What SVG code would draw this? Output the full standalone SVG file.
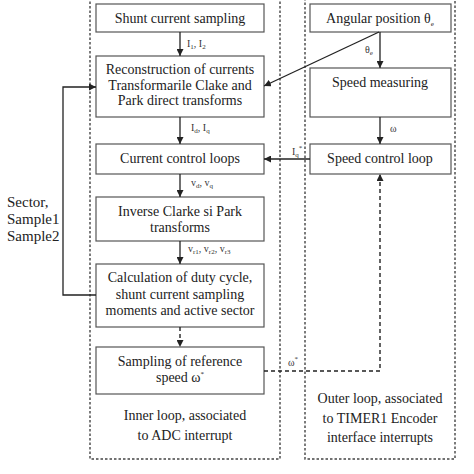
<svg xmlns="http://www.w3.org/2000/svg" width="474" height="474" viewBox="0 0 474 474">
<style>
.box{fill:#fff;stroke:#555;stroke-width:1.2}
.grp{fill:none;stroke:#444;stroke-width:1.4;stroke-dasharray:2.5 2}
.t{font-size:14px;fill:#222;text-anchor:middle}
.s{font-size:10px;fill:#333}
.sub{font-size:7px}
.side{font-size:15px;fill:#222}
.c{fill:none;stroke:#222;stroke-width:1.3}
.d{fill:none;stroke:#222;stroke-width:1.4;stroke-dasharray:4 3}
</style>
<defs>
<marker id="ah" viewBox="0 0 10 10" refX="10" refY="5" markerWidth="7" markerHeight="7" orient="auto" markerUnits="userSpaceOnUse">
<path d="M0,0 L10,5 L0,10 z" fill="#222"/>
</marker>
</defs>
<rect width="474" height="474" fill="#fff"/>
<g font-family="Liberation Serif, DejaVu Serif, serif">
<g id="inner-loop">
<rect class="grp" x="90" y="-2" width="190" height="461"/>
<text class="t" x="185" y="420">Inner loop, associated</text>
<text class="t" x="185" y="440">to ADC interrupt</text>
</g>
<g id="outer-loop">
<rect class="grp" x="305" y="-2" width="150" height="461"/>
<text class="t" x="380" y="403">Outer loop,  associated</text>
<text class="t" x="380" y="423">to TIMER1 Encoder</text>
<text class="t" x="380" y="442">interface interrupts</text>
</g>
<g id="shunt">
<rect class="box" x="96" y="4" width="168" height="28"/>
<text class="t" x="180" y="23">Shunt current sampling</text>
</g>
<g id="reconstruction">
<rect class="box" x="96" y="56" width="168" height="61"/>
<text class="t" x="180" y="74">Reconstruction of currents</text>
<text class="t" x="180" y="90">Transformarile Clake and</text>
<text class="t" x="180" y="105">Park direct transforms</text>
</g>
<g id="current-control">
<rect class="box" x="96" y="144" width="168" height="30"/>
<text class="t" x="180" y="163">Current control loops</text>
</g>
<g id="inverse">
<rect class="box" x="96" y="197" width="168" height="44"/>
<text class="t" x="180" y="216">Inverse Clarke si Park</text>
<text class="t" x="180" y="232">transforms</text>
</g>
<g id="calculation">
<rect class="box" x="96" y="264" width="168" height="63"/>
<text class="t" x="180" y="282">Calculation of duty cycle,</text>
<text class="t" x="180" y="299">shunt current sampling</text>
<text class="t" x="180" y="315">moments and active sector</text>
</g>
<g id="sampling-ref">
<rect class="box" x="96" y="347" width="168" height="47"/>
<text class="t" x="180" y="366">Sampling of reference</text>
<text class="t" x="180" y="382">speed  ω<tspan class="sub" dy="-6">*</tspan></text>
</g>
<g id="angular">
<rect class="box" x="310" y="4" width="141" height="28"/>
<text class="t" x="380" y="23">Angular position θ<tspan class="sub" dy="3">e</tspan></text>
</g>
<g id="speed-measuring">
<rect class="box" x="310" y="68" width="141" height="49"/>
<text class="t" x="380" y="87">Speed measuring</text>
</g>
<g id="speed-control">
<rect class="box" x="310" y="144" width="141" height="30"/>
<text class="t" x="380" y="163">Speed control loop</text>
</g>
<g id="side-label">
<text class="side" x="7" y="207">Sector,</text>
<text class="side" x="7" y="224">Sample1</text>
<text class="side" x="7" y="241">Sample2</text>
</g>
<g id="connectors">
<path class="c" d="M180,32 V56" marker-end="url(#ah)"/>
<path class="c" d="M180,117 V144" marker-end="url(#ah)"/>
<path class="c" d="M180,174 V197" marker-end="url(#ah)"/>
<path class="c" d="M180,241 V264" marker-end="url(#ah)"/>
<path class="d" d="M180,327 V347" marker-end="url(#ah)"/>
<path class="c" d="M380,32 V68" marker-end="url(#ah)"/>
<path class="c" d="M379,32 L264,86" marker-end="url(#ah)"/>
<path class="c" d="M380,117 V144" marker-end="url(#ah)"/>
<path class="c" d="M310,159 H264" marker-end="url(#ah)"/>
<path class="d" d="M264,371 H380 V174" marker-end="url(#ah)"/>
<path class="c" d="M96,295 H63 V87 H96" marker-end="url(#ah)"/>
<text class="s" x="187" y="47">I<tspan class="sub" dy="2">1</tspan><tspan dy="-2">, I</tspan><tspan class="sub" dy="2">2</tspan></text>
<text class="s" x="191" y="131">I<tspan class="sub" dy="2">d</tspan><tspan dy="-2">, I</tspan><tspan class="sub" dy="2">q</tspan></text>
<text class="s" x="191" y="186">v<tspan class="sub" dy="2">d</tspan><tspan dy="-2">, v</tspan><tspan class="sub" dy="2">q</tspan></text>
<text class="s" x="188" y="252">v<tspan class="sub" dy="2">r1</tspan><tspan dy="-2">, v</tspan><tspan class="sub" dy="2">r2</tspan><tspan dy="-2">, v</tspan><tspan class="sub" dy="2">r3</tspan></text>
<text class="s" x="292" y="155">I<tspan class="sub" dy="2">q</tspan><tspan class="sub" dy="-7">*</tspan></text>
<text class="s" x="365" y="53">θ<tspan class="sub" dy="2">e</tspan></text>
<text class="s" x="390" y="132">ω</text>
<text class="s" x="288" y="366">ω<tspan class="sub" dy="-5">*</tspan></text>
</g>
</g>
</svg>
